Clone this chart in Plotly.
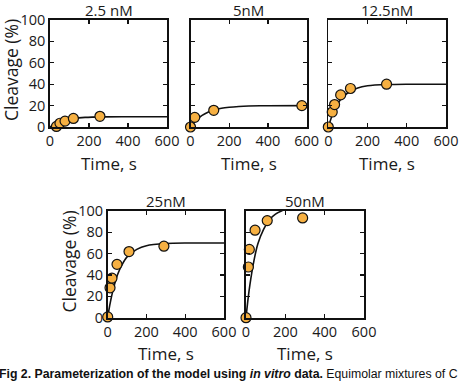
import plotly.graph_objects as go

W, H = 474, 382

# ---- data ----
panel_titles = ["2.5 nM", "5nM", "12.5nM", "25nM", "50nM"]

t_25 = [33, 51, 77, 120, 256]
y_25 = [0.5, 3.5, 5.5, 8, 10]
ct_25 = [0, 30, 60, 90, 120, 180, 270, 400, 600]
cy_25 = [0, 3, 5.3, 7, 8, 9, 9.5, 9.6, 9.6]

t_5 = [0, 22, 120, 575]
y_5 = [0, 9, 15.6, 20]
ct_5 = [0, 20, 40, 60, 90, 120, 160, 200, 250, 300, 400, 600]
cy_5 = [0, 4.5, 8, 10.8, 13.8, 15.7, 17.5, 18.5, 19.2, 19.6, 19.9, 20]

t_12 = [0, 20, 32, 63, 113, 297]
y_12 = [0, 14, 21, 30, 36, 40]
ct_12 = [0, 20, 40, 60, 100, 150, 200, 300, 400, 600]
cy_12 = [0, 11, 19, 25, 32, 36.5, 38.5, 39.7, 40, 40]

t_25n = [0, 12, 22, 48, 110, 290]
y_25n = [0.7, 28, 37, 50, 62, 67]
ct_25n = [0, 10, 25, 50, 75, 100, 150, 200, 300, 400, 600]
cy_25n = [0, 11, 24, 40, 50, 57, 64, 67.5, 69.5, 70, 70]

t_50 = [0, 12, 17, 46, 108, 288]
y_50 = [0, 47.5, 64, 82, 91, 93.5]
ct_50 = [0, 10, 20, 40, 60, 90, 120, 150, 180, 210, 300, 600]
cy_50 = [0, 17, 31, 53, 69, 83, 92, 97, 100, 102, 104.5, 105]

x_ticks = [0, 200, 400, 600]
y_ticks = [0, 20, 40, 60, 80, 100]

x_label = "Time, s"
y_label = "Cleavage (%)"
caption = ("<b>Fig 2. Parameterization of the model using <i>in vitro</i> data.</b>"
           " Equimolar mixtures of C")

points = [(t_25, y_25), (t_5, y_5), (t_12, y_12), (t_25n, y_25n), (t_50, y_50)]
curves = [(ct_25, cy_25), (ct_5, cy_5), (ct_12, cy_12), (ct_25n, cy_25n), (ct_50, cy_50)]

# ---- layout geometry (pixels) ----
boxes = [
    (50, 167, 20, 127),
    (190.5, 306.7, 20, 127),
    (328.3, 446, 20, 127),
    (107.7, 224, 211, 317.7),
    (246, 364, 211, 317.7),
]
show_y = [True, False, False, True, False]

FONT = "Open Sans"
TXT = "#1a1a1a"
MARKER_FILL = "#F6B042"

fig = go.Figure()
layout = dict(
    width=W, height=H,
    margin=dict(l=0, r=0, t=0, b=0, pad=0, autoexpand=False),
    paper_bgcolor="white", plot_bgcolor="white", showlegend=False,
    font=dict(family=FONT, color=TXT),
)
annotations = []

for i, ((x0, x1, y0, y1), (pt, py), (ct, cy)) in enumerate(zip(boxes, points, curves)):
    n = "" if i == 0 else str(i + 1)
    xa, ya = "x" + n, "y" + n
    dx = [x0 / W, x1 / W]
    dy = [1 - y1 / H, 1 - y0 / H]
    common = dict(
        ticks="inside", ticklen=4, tickwidth=1.3, tickcolor="#111",
        showline=True, linecolor="#111", linewidth=1.8, mirror="ticks",
        showgrid=False, zeroline=False, fixedrange=True, automargin=False,
        tickfont=dict(size=14.5, family=FONT, color=TXT),
    )
    layout["xaxis" + n] = dict(domain=dx, anchor=ya, range=[0, 600],
                               tickvals=x_ticks, **common)
    layout["yaxis" + n] = dict(domain=dy, anchor=xa, range=[0, 100],
                               tickvals=y_ticks, showticklabels=show_y[i], **common)
    fig.add_trace(go.Scatter(
        x=ct, y=cy, mode="lines", xaxis=xa, yaxis=ya,
        line=dict(color="#111", width=1.6, shape="spline", smoothing=0.8),
        hoverinfo="skip"))
    fig.add_trace(go.Scatter(
        x=pt, y=py, mode="markers", xaxis=xa, yaxis=ya, cliponaxis=False,
        marker=dict(size=10, color=MARKER_FILL, line=dict(color="#111", width=1.2))))
    cx = (x0 + x1) / 2 / W
    annotations.append(dict(
        text=panel_titles[i], x=cx, y=1 - (y0 - 10) / H, xref="paper", yref="paper",
        xanchor="center", yanchor="middle", showarrow=False,
        font=dict(size=15, family=FONT, color=TXT)))
    annotations.append(dict(
        text=x_label, x=cx, y=1 - (y1 + 36) / H, xref="paper", yref="paper",
        xanchor="center", yanchor="middle", showarrow=False,
        font=dict(size=17, family=FONT, color=TXT)))
    if show_y[i]:
        annotations.append(dict(
            text=y_label, x=(x0 - 38.5) / W, y=(dy[0] + dy[1]) / 2 + 3 / H,
            xref="paper", yref="paper", xanchor="center", yanchor="middle",
            textangle=-90, showarrow=False,
            font=dict(size=17.5, family=FONT, color=TXT)))

annotations.append(dict(
    text=caption, x=0, y=0, xref="paper", yref="paper", xanchor="left",
    yanchor="bottom", xshift=-3, yshift=-1, showarrow=False,
    font=dict(size=12.3, family="Liberation Sans, Arial", color="#111")))

layout["annotations"] = annotations
fig.update_layout(**layout)
fig.write_html(
    "out.html",
    config={"displayModeBar": False, "staticPlot": True},
    post_script="document.body.style.margin='0';document.body.style.padding='0';",
)
